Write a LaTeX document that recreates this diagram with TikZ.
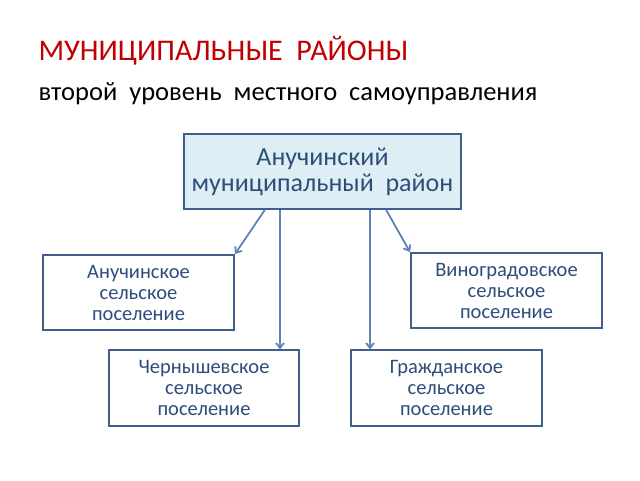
\documentclass[tikz,border=0pt]{standalone}
\usepackage{fontspec}
\setmainfont{Carlito}
\usetikzlibrary{arrows.meta}
\definecolor{bord}{HTML}{3F5F8A}
\definecolor{txt}{HTML}{2E4E7A}
\definecolor{arr}{HTML}{5F82B5}
\definecolor{topfill}{HTML}{DDEEF4}
\definecolor{ttl}{HTML}{C00000}
\begin{document}
\begin{tikzpicture}[x=1pt,y=-1pt,
  box/.style={draw=bord,line width=1.2pt,fill=white,align=center,text=txt,font=\fontsize{20.5}{21}\selectfont,inner sep=0pt},
  conn/.style={draw=arr,line width=1.8pt,-{Straight Barb[length=5pt,width=8pt]}}]
\useasboundingbox (0,0) rectangle (640,480);
\node[anchor=west,text=ttl,font=\fontsize{30}{32}\selectfont] (t) at (35,51) {МУНИЦИПАЛЬНЫЕ\ \ РАЙОНЫ};
\node[anchor=west,font=\fontsize{26.5}{28}\selectfont] (s) at (35,94) {второй\ \ уровень\ \ местного\ \ самоуправления};
\node[box,fill=topfill,minimum width=277pt,minimum height=75pt,font=\fontsize{26}{26}\selectfont] (top) at (322.5,171.5) {Анучинский\\муниципальный\ \ район};
\node[box,minimum width=191pt,minimum height=75pt] (a) at (138.5,292.5) {Анучинское\\сельское\\поселение};
\node[box,minimum width=191pt,minimum height=75pt] (v) at (506.5,290.5) {Виноградовское\\сельское\\поселение};
\node[box,minimum width=190pt,minimum height=76pt] (c) at (204,388) {Чернышевское\\сельское\\поселение};
\node[box,minimum width=191pt,minimum height=76pt] (g) at (446.5,388) {Гражданское\\сельское\\поселение};
\draw[conn] (top.south -| 265,0) -- (235,254);
\draw[conn] (top.south -| 280,0) -- (c.north -| 280,0);
\draw[conn] (top.south -| 370,0) -- (g.north -| 370,0);
\draw[conn] (top.south -| 386,0) -- (410,252);
\end{tikzpicture}
\end{document}
